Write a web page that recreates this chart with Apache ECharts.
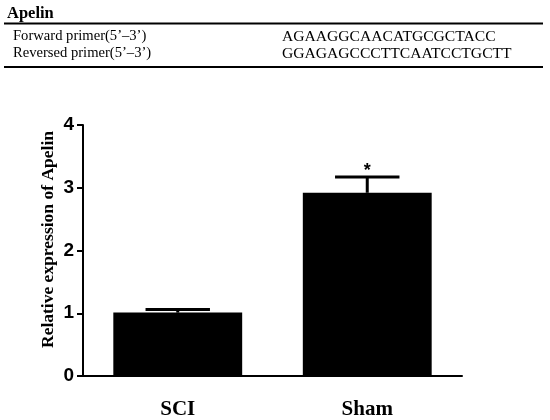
<!DOCTYPE html>
<html>
<head>
<meta charset="utf-8">
<script src="https://cdn.jsdelivr.net/npm/echarts@6/dist/echarts.min.js"></script>
<style>
html,body{margin:0;padding:0;background:#fff;}
#main{width:550px;height:420px;}
</style>
</head>
<body>
<div id="main"></div>
<script>
var categories = ['SCI', 'Sham'];
var means = [1.01, 2.92];
var errors = [0.05, 0.25];
var significance = ['', '*'];
var yTicks = [0, 1, 2, 3, 4];

var tableTitle = 'Apelin';
var rowLabels = ['Forward primer(5\u2019\u20133\u2019)', 'Reversed primer(5\u2019\u20133\u2019)'];
var rowSequences = ['AGAAGGCAACATGCGCTACC', 'GGAGAGCCCTTCAATCCTGCTT'];

var chart = echarts.init(document.getElementById('main'));
var serif = '"Liberation Serif", "Times New Roman", serif';
var sans = '"Liberation Sans", Arial, sans-serif';

var graphics = [
  {type:'text', left:7, top:5, style:{text:tableTitle, font:'bold 16.5px ' + serif, fill:'#000'}},
  {type:'line', shape:{x1:4, y1:23.5, x2:543, y2:23.5}, style:{stroke:'#000', lineWidth:2}},
  {type:'line', shape:{x1:4, y1:67, x2:543, y2:67}, style:{stroke:'#000', lineWidth:2}}
];
rowLabels.forEach(function (t, i) {
  graphics.push({type:'text', left:13, top:29 + i * 17, style:{text:t, font:'14.6px ' + serif, fill:'#000'}});
  graphics.push({type:'text', left:282, top:29 + i * 17, style:{text:rowSequences[i], font:'15.6px ' + serif, fill:'#000'}});
});

chart.setOption({
  animation: false,
  backgroundColor: '#fff',
  graphic: graphics,
  grid: {left: 83, right: 88, top: 125, bottom: 43, containLabel: false},
  xAxis: {
    type: 'category',
    data: categories,
    axisLine: {lineStyle: {color: '#000', width: 2}},
    axisTick: {alignWithLabel: true, length: 7, lineStyle: {color: '#000', width: 2}},
    axisLabel: {color: '#000', fontFamily: serif, fontWeight: 'bold', fontSize: 21, margin: 23}
  },
  yAxis: {
    type: 'value',
    min: yTicks[0],
    max: yTicks[yTicks.length - 1],
    interval: 1,
    name: 'Relative expression of Apelin',
    nameLocation: 'middle',
    nameGap: 26,
    nameMoveOverlap: false,
    nameTextStyle: {color: '#000', fontFamily: serif, fontWeight: 'bold', fontSize: 17.5, padding: [0, 0, 0, 22]},
    axisLine: {show: true, lineStyle: {color: '#000', width: 2}},
    axisTick: {show: true, length: 6, lineStyle: {color: '#000', width: 2}},
    axisLabel: {color: '#000', fontFamily: sans, fontWeight: 'bold', fontSize: 19, margin: 9},
    splitLine: {show: false}
  },
  series: [
    {
      type: 'bar',
      data: means,
      barWidth: '68%',
      itemStyle: {color: '#000'},
      z: 2
    },
    {
      type: 'custom',
      data: categories.map(function (c, i) { return [i, means[i], errors[i]]; }),
      renderItem: function (params, api) {
        var i = api.value(0);
        var top = api.coord([i, api.value(1) + api.value(2)]);
        var base = api.coord([i, api.value(1)]);
        var half = api.size([1, 0])[0] * 0.17;
        var children = [
          {type:'line', shape:{x1:top[0], y1:base[1], x2:top[0], y2:top[1]}, style:{stroke:'#000', lineWidth:3}},
          {type:'line', shape:{x1:top[0] - half, y1:top[1], x2:top[0] + half, y2:top[1]}, style:{stroke:'#000', lineWidth:3}}
        ];
        if (significance[i]) {
          children.push({type:'text', x: top[0], y: top[1] + 3, style:{text: significance[i], font:'bold 18px ' + sans, fill:'#000', align:'center', verticalAlign:'bottom'}});
        }
        return {type:'group', children: children};
      },
      z: 3
    }
  ]
});
</script>
</body>
</html>
